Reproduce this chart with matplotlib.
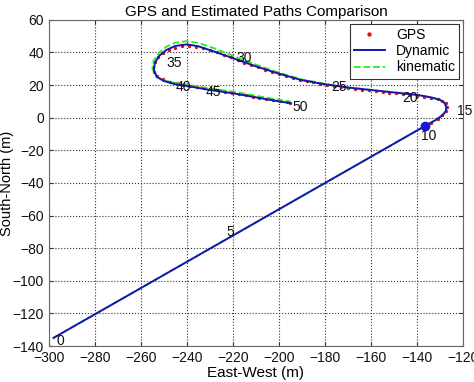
import matplotlib
matplotlib.use("Agg")
import matplotlib.pyplot as plt

plt.rcParams['font.family'] = ['Liberation Sans', 'DejaVu Sans']

# ---------- DATA ----------
dyn_x = [-298, -136.5, -132, -129, -127.5, -127.3, -128, -130, -134, -140, -150, -160,
         -170, -180, -190, -200, -210, -220, -228, -235, -240, -245, -249, -252, -254,
         -254.3, -253, -250, -245, -240, -230, -220, -210, -200, -195]
dyn_y = [-135, -5, -1.5, 1.5, 4, 6.5, 9, 11, 12.5, 14, 15.5, 17,
         18.5, 20.5, 23, 27, 31.5, 36.5, 40.5, 43.8, 45, 44, 41.5, 38, 33.5,
         29, 25, 22.5, 20.5, 19.5, 17, 15, 12.5, 10, 9]

kin_x = [-298, -136.5, -132, -129, -127.5, -127.3, -128, -130, -134, -140, -150, -160,
         -170, -180, -190, -200, -210, -220, -228, -235, -240, -245, -249, -252, -254.5,
         -255, -253.5, -250, -245, -240, -230, -220, -210, -200, -195]
kin_y = [-135, -5, -1.5, 1.5, 4, 6.5, 9, 11, 12.5, 14, 15.5, 17,
         18.6, 20.8, 23.5, 27.6, 32.6, 38, 42.5, 45.8, 47, 46, 43.5, 40, 35,
         30, 25.5, 23, 21.3, 20.3, 18, 16, 13.5, 11, 10]

gps_x = [-134, -131, -129, -127.5, -127, -127.5, -129, -131, -134, -137, -140, -143,
         -146, -149, -152, -155, -158, -161, -164, -167, -170, -173, -176, -179,
         -182, -185, -188, -191, -194, -197, -200, -203, -206, -209, -212, -215,
         -218, -221, -224, -227, -230, -233, -236, -239, -242, -245, -248, -250.5,
         -252.5, -254, -254.8, -254.5, -253, -250.5, -247.5, -244.5, -241.5, -238.5,
         -235.5, -232.5, -229.5, -226.5, -223.5, -220.5, -217.5, -214.5, -211.5,
         -208.5, -205.5, -202.5, -199.5, -196.5, -195]
gps_y = [-3.5, -1, 1.5, 4, 6.5, 9, 10.5, 11.5, 12.2, 13, 13.5, 14,
         14.5, 15, 15.4, 15.8, 16.3, 16.8, 17.2, 17.7, 18.2, 18.8, 19.4, 20,
         20.8, 21.6, 22.4, 23.4, 24.5, 25.6, 26.8, 28, 29.4, 30.8, 32.3, 33.8,
         35.4, 37, 38.6, 40, 41.3, 42.5, 43.4, 44, 43.8, 43, 41.5, 39.5,
         37, 34, 31, 28, 25.5, 23.5, 22, 21, 20.2, 19.6,
         18.9, 18.2, 17.5, 16.8, 16, 15.3, 14.6, 13.8, 13,
         12.3, 11.6, 10.9, 10.2, 9.5, 9.2]

# time labels (seconds) and where they sit
time_labels = ['0', '5', '10', '15', '20', '25', '30', '35', '40', '45', '50']
label_x = [-296.5, -223, -138.3, -122.6, -146.5, -177.4, -218.7, -248.7, -244.8, -231.7, -194.3]
label_y = [-137, -70, -11, 4.2, 12, 19, 36.7, 33.6, 19, 16, 6.6]

marker_x = [-136.5]
marker_y = [-5]

# ---------- PLOTTING ----------
fig = plt.figure(figsize=(4.74, 3.82), dpi=100)
ax = fig.add_axes([0.103, 0.094, 0.874, 0.854])

ax.plot(gps_x, gps_y, '.', color='#dd1010', markersize=2.8, label='GPS')
ax.plot(dyn_x, dyn_y, '-', color='#1515b0', lw=1.4, label='Dynamic', zorder=4)
ax.plot(kin_x, kin_y, '--', color='#22ee22', lw=1.3, label='kinematic', zorder=3)
ax.plot(marker_x, marker_y, 'o', color='#1515e0', markersize=6, zorder=5)

for t, lx, ly in zip(time_labels, label_x, label_y):
    ax.text(lx, ly, t, ha='left', va='center', fontsize=10, color='#111111', zorder=6)

ax.set_xlim(-300, -120)
ax.set_ylim(-140, 60)
ax.set_xticks(range(-300, -119, 20))
ax.set_yticks(range(-140, 61, 20))
ax.tick_params(direction='in', length=3, labelsize=10, top=True, right=True,
               colors='#333333', labelcolor='#111111')
ax.grid(True, linestyle=':', color='#333333', linewidth=0.8)
for s in ax.spines.values():
    s.set_color('#666666')

ax.set_xlabel('East-West (m)', fontsize=11, labelpad=1)
ax.set_ylabel('South-North (m)', fontsize=10.5, labelpad=0)
ax.yaxis.set_label_coords(-0.083, 0.5)
ax.set_title('GPS and Estimated Paths Comparison', fontsize=11, pad=3)

leg = ax.legend(loc='upper right', fontsize=10, borderaxespad=0.3, handlelength=2.2,
                fancybox=False, framealpha=1, borderpad=0.3, labelspacing=0.15,
                markerscale=1.5)
leg.get_frame().set_edgecolor('#333333')
leg.get_frame().set_linewidth(0.8)

fig.savefig('out.png', dpi=100)
